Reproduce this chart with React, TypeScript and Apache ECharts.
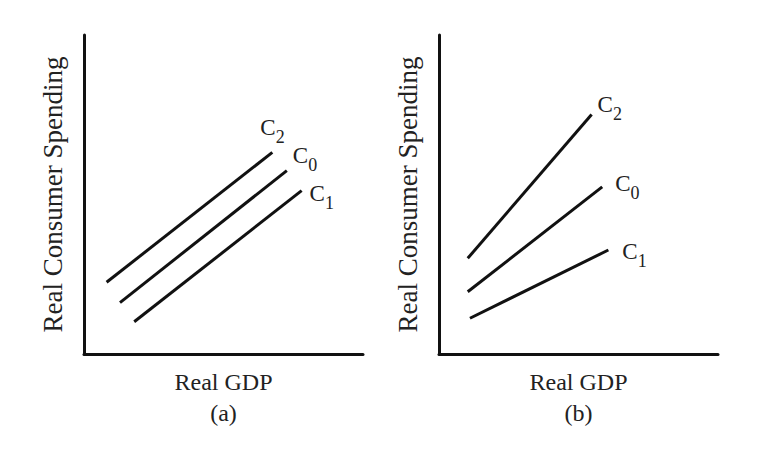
import React, { useEffect, useRef } from "react";
import * as echarts from "echarts";

// Curve names and subscripts
const curveSubs = ["2", "0", "1"];
const panelTitles = ["(a)", "(b)"];
const xAxisTitle = "Real GDP";
const yAxisTitle = "Real Consumer Spending";

// Panel (a): parallel shifts  [x, y] endpoints in axis units (0-100)
const panelA_C2 = [[8.1, 22.5], [67.5, 63.2]];
const panelA_C0 = [[12.9, 16.1], [72.7, 57.5]];
const panelA_C1 = [[18.0, 10.1], [78.0, 51.2]];

// Panel (b): rotations
const panelB_C2 = [[10.3, 30.0], [54.7, 75.1]];
const panelB_C0 = [[10.3, 19.5], [58.5, 52.4]];
const panelB_C1 = [[11.1, 11.2], [60.7, 32.6]];

const FONT = "'Liberation Serif', 'DejaVu Serif', serif";
const INK = "#111";
const TEXT = "#222";

export default function App() {
  const ref = useRef<HTMLDivElement>(null);
  useEffect(() => {
    if (!ref.current) return;
    const chart = echarts.init(ref.current, undefined, { renderer: "svg" });

    const grids = [
      { left: 84, top: 35, width: 279, height: 319 },
      { left: 439, top: 35, width: 279, height: 319 },
    ];

    const axisLine = { show: true, lineStyle: { color: INK, width: 3 } };

    const xAxes = panelTitles.map((t, i) => ({
      type: "value",
      gridIndex: i,
      min: 0,
      max: 100,
      axisLine,
      axisTick: { show: false },
      axisLabel: { show: false },
      splitLine: { show: false },
      name: `{t|${xAxisTitle}}\n{t|${t}}`,
      nameLocation: "middle",
      nameGap: 12,
      nameTextStyle: {
        rich: { t: { fontFamily: FONT, fontSize: 24, color: TEXT, lineHeight: 31 } },
      },
    }));

    const yAxes = panelTitles.map((_, i) => ({
      type: "value",
      gridIndex: i,
      min: 0,
      max: 100,
      axisLine,
      axisTick: { show: false },
      axisLabel: { show: false },
      splitLine: { show: false },
      name: yAxisTitle,
      nameLocation: "middle",
      nameRotate: 90,
      nameGap: 18,
      nameTextStyle: { fontFamily: FONT, fontSize: 27, color: TEXT },
    }));

    const rich = {
      c: { fontFamily: FONT, fontSize: 23, color: TEXT, lineHeight: 26, verticalAlign: "top" },
      s: { fontFamily: FONT, fontSize: 18, color: TEXT, lineHeight: 30, verticalAlign: "bottom" },
    };

    const mk = (data: number[][], panel: number, sub: string, offset: number[]) => ({
      type: "line",
      xAxisIndex: panel,
      yAxisIndex: panel,
      data,
      showSymbol: false,
      symbol: "none",
      lineStyle: { color: INK, width: 3 },
      endLabel: {
        show: true,
        distance: 4,
        offset,
        formatter: `{c|C}{s|${sub}}`,
        rich,
      },
    });

    chart.setOption({
      animation: false,
      backgroundColor: "#fff",
      grid: grids,
      xAxis: xAxes,
      yAxis: yAxes,
      series: [
        mk(panelA_C2, 0, curveSubs[0], [-16, -21]),
        mk(panelA_C0, 0, curveSubs[1], [2, -12]),
        mk(panelA_C1, 0, curveSubs[2], [4, 6]),
        mk(panelB_C2, 1, curveSubs[0], [2, -6]),
        mk(panelB_C0, 1, curveSubs[1], [9, 0]),
        mk(panelB_C1, 1, curveSubs[2], [10, 5]),
      ],
    });
    return () => chart.dispose();
  }, []);

  return (
    <div
      ref={ref}
      style={{ position: "fixed", left: 0, top: 0, width: 766, height: 462, background: "#fff" }}
    />
  );
}
